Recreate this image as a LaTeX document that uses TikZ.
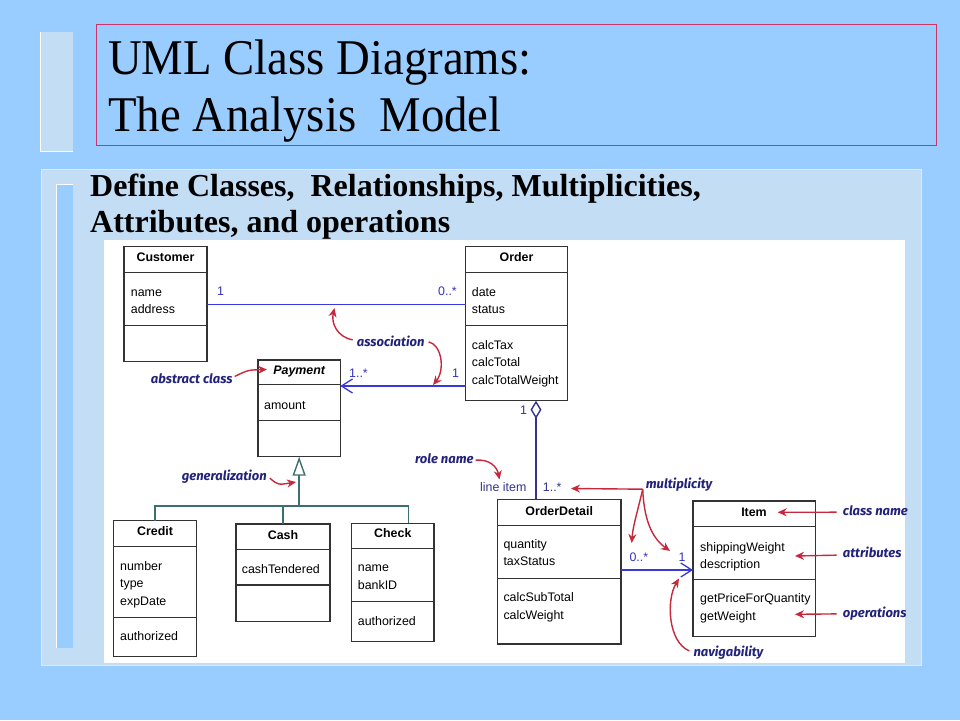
\documentclass[tikz,border=0pt]{standalone}
\usepackage{fontspec}
\setmainfont{Liberation Serif}
\newfontfamily\umlfont{Liberation Sans}
\newfontfamily\annofont{Fira Sans}
\usetikzlibrary{arrows.meta,fit}
\definecolor{bgblue}{HTML}{99CCFF}
\definecolor{panelblue}{HTML}{C3DDF5}
\definecolor{paneledge}{HTML}{DCEBF8}
\definecolor{titlered}{HTML}{CC3366}
\definecolor{annored}{HTML}{C8283C}
\definecolor{annonavy}{HTML}{22227A}
\definecolor{assocblue}{HTML}{3838E0}
\definecolor{multblue}{HTML}{3434C0}
\definecolor{aggnavy}{HTML}{34348C}
\definecolor{genteal}{HTML}{3C7070}
\definecolor{boxgray}{HTML}{333333}
\newcommand\umlclass[7]{%
  \node[classbox, fit={(#2,#3) (#4,#5)}] (#1) {};
  \draw[divider] (#1.west |- #2,#6) -- (#1.east |- #4,#6);
  \draw[divider] (#1.west |- #2,#7) -- (#1.east |- #4,#7);}
\newcommand\umllines[4]{%
  \foreach \t [count=\i] in {#4} {\node[cattr] (#1\i) at (#2,{#3+(\i-1)*17.5}) {\t};}}
\begin{document}
\begin{tikzpicture}[x=1pt,y=-1pt,
  classbox/.style={draw=boxgray, line width=1.5pt, fill=white, inner sep=0pt, outer sep=0pt},
  divider/.style={draw=boxgray, line width=1.4pt},
  ctitle/.style={font=\umlfont\bfseries\fontsize{12.4}{14}\selectfont, anchor=base, inner sep=0pt},
  ctitleit/.style={font=\umlfont\bfseries\itshape\fontsize{12.4}{14}\selectfont, anchor=base, inner sep=0pt},
  cattr/.style={font=\umlfont\fontsize{12.4}{14}\selectfont, anchor=base west, inner sep=0pt},
  mult/.style={font=\umlfont\fontsize{12.4}{14}\selectfont, anchor=base west, inner sep=0pt, text=multblue},
  multnavy/.style={mult, text=aggnavy},
  anno/.style={font=\annofont\bfseries\itshape\fontsize{13}{15}\selectfont, text=annonavy, anchor=base west, inner sep=0pt},
  redarrow/.style={draw=annored, line width=1.4pt, -{Stealth[length=9pt,width=8pt]}},
  assoc/.style={draw=assocblue, line width=1.4pt},
  navarrow/.style={assoc, -{Straight Barb[length=11pt,width=14pt,line width=1.3pt]}},
  genline/.style={draw=genteal, line width=1.4pt},
  genarrow/.style={genline, -{Triangle[open,length=19pt,width=13pt,fill=white]}},
  aggline/.style={draw=aggnavy, line width=1.4pt, -{Diamond[open,length=18pt,width=11pt,fill=white]}},
]
\useasboundingbox (0,0) rectangle (960,720);
\fill[bgblue] (0,0) rectangle (960,720);
% title area
\fill[panelblue] (40,32) rectangle (73,152);
\draw[white, line width=1pt] (40.5,32) -- (40.5,151.5) -- (73,151.5);
\draw[titlered, line width=1pt] (96,24) rectangle (936,145);
\node[anchor=base west, inner sep=0pt, font=\fontsize{50}{56}\selectfont] (title1) at (108,74.5) {\scalebox{0.935}[1]{UML Class Diagrams:}};
\node[anchor=base west, inner sep=0pt, font=\fontsize{50}{56}\selectfont] (title2) at (108,131) {\scalebox{0.935}[1]{The Analysis\ \ Model}};
% panel
\filldraw[fill=panelblue, draw=paneledge, line width=1pt] (41,169) rectangle (921,665);
\fill[bgblue] (56,184) rectangle (73,648);
\draw[white, line width=1pt] (56.5,648) -- (56.5,184.5) -- (73,184.5);
\node[anchor=base west, inner sep=0pt, font=\bfseries\fontsize{32}{36}\selectfont] (sub1) at (90,196) {Define Classes,\ \ Relationships, Multiplicities,};
\node[anchor=base west, inner sep=0pt, font=\bfseries\fontsize{32}{36}\selectfont] (sub2) at (90,232.5) {Attributes, and operations};
\fill[white] (104,240) rectangle (905,663);
% classes
\umlclass{customer}{124}{246.7}{207}{361.7}{272.7}{325.7}
\node[ctitle] (customerT) at (165.5,261.7) {Customer};
\umllines{customerA}{130.7}{296}{name,address}
\umlclass{order}{465.7}{246.7}{567.3}{400.7}{272.7}{325.7}
\node[ctitle] (orderT) at (516.5,261.7) {Order};
\umllines{orderA}{471.7}{296}{date,status}
\umllines{orderO}{471.7}{349}{calcTax,calcTotal,calcTotalWeight}
\umlclass{payment}{258}{360}{340.3}{456.7}{384.7}{420.7}
\node[ctitleit] (paymentT) at (299.2,374.5) {Payment};
\umllines{paymentA}{264}{409}{amount}
\umlclass{credit}{113.3}{520.7}{196.7}{656.7}{546.7}{617.3}
\node[ctitle] (creditT) at (155,535) {Credit};
\umllines{creditA}{120}{570}{number,type,expDate}
\umllines{creditO}{120}{640}{authorized}
\umlclass{cash}{236}{524}{330}{621.7}{549.3}{585}
\node[ctitle] (cashT) at (283,539) {Cash};
\umllines{cashA}{241.7}{573}{cashTendered}
\umlclass{check}{351.7}{523.3}{434}{641.7}{548.3}{601.7}
\node[ctitle] (checkT) at (392.8,537.7) {Check};
\umllines{checkA}{357.7}{571.7}{name,bankID}
\umllines{checkO}{357.7}{625}{authorized}
\umlclass{od}{497.5}{499.3}{621}{644}{525.5}{578.3}
\node[ctitle] (odT) at (559.2,515) {OrderDetail};
\umllines{odA}{503.3}{548.3}{quantity,taxStatus}
\umllines{odO}{503.3}{601.7}{calcSubTotal,calcWeight}
\umlclass{item}{693}{501}{815.3}{636.7}{526.3}{579.3}
\node[ctitle] (itemT) at (754,516) {Item};
\umllines{itemA}{700}{551}{shippingWeight,description}
\umllines{itemO}{700}{602.7}{getPriceForQuantity,getWeight}
% associations
\draw[assoc] (customer.east) -- (customer.east -| order.west);
\node[mult] (m1) at (217,295.7) {1};
\node[mult] (m2) at (438,295) {0..*};
\coordinate (opS) at (465.7,386);
\draw[navarrow] (opS) -- (opS -| payment.east);
\node[mult] (m3) at (349,377) {1..*};
\node[mult] (m4) at (452,377) {1};
\coordinate (aggtop) at (536,400.7);
\draw[aggline] (aggtop |- od.north) -- (aggtop);
\node[multnavy] (m5) at (520,414.3) {1};
\node[multnavy] (roleT) at (480,491.7) {line item};
\node[multnavy] (m6) at (542.7,491.7) {1..*};
\coordinate (odI) at (621,570);
\draw[navarrow] (odI) -- (odI -| item.west);
\node[mult] (m7) at (629.3,561.7) {0..*};
\node[mult] (m8) at (678.3,561.7) {1};
% generalization
\coordinate (chkj) at (408.7,506);
\draw[genline] (credit.north) |- (chkj) -- (chkj |- check.north);
\draw[genline] (cash.north) -- (cash.north |- chkj);
\draw[genarrow] (payment.south |- chkj) -- (payment.south);
% annotations
\node[anno] (aAbs) at (150.7,383.3) {abstract class};
\coordinate (tAbs) at (267,369.5);
\draw[redarrow] ([shift={(2,-2)}]aAbs.east) .. controls (248,370) .. (tAbs);
\node[anno] (aAssoc) at (356.7,346) {association};
\coordinate (tAs1) at (334.5,308);
\coordinate (tAs2) at (433,385);
\draw[redarrow] ([shift={(-4,-1)}]aAssoc.west) .. controls (337,337) and (331,323) .. (tAs1);
\draw[redarrow] ([shift={(4,1)}]aAssoc.east) .. controls (442,345) and (445,370) .. (tAs2);
\node[anno] (aGen) at (181.7,480) {generalization};
\coordinate (tGen) at (296,482);
\draw[redarrow] ([shift={(3,2)}]aGen.east) .. controls (278,485) .. (tGen);
\node[anno] (aRole) at (415,463) {role name};
\coordinate (tRole) at (499.5,479.5);
\draw[redarrow] ([shift={(2,2)}]aRole.east) .. controls (490,459) and (497,467) .. (tRole);
\node[anno] (aMult) at (645.7,488) {multiplicity};
\coordinate (mO) at ([shift={(-3,5)}]aMult.west);
\coordinate (tM1) at (571,488.5);
\coordinate (tM2) at (631.7,543);
\coordinate (tM3) at (670,551);
\draw[redarrow] (mO) -- (tM1);
\draw[redarrow] (mO) .. controls (638,510) and (633,525) .. (tM2);
\draw[redarrow] (mO) .. controls (644,520) and (652,538) .. (tM3);
\node[anno] (aCls) at (842.7,515) {class name};
\coordinate (tCls) at (777.7,512.3);
\draw[redarrow] ([shift={(-6,2)}]aCls.west) -- (tCls);
\node[anno] (aAttr) at (842.7,557.3) {attributes};
\coordinate (tAttr) at (795,556);
\draw[redarrow] ([shift={(-6,3)}]aAttr.west) -- (tAttr);
\node[anno] (aOps) at (842.7,617.7) {operations};
\coordinate (tOps) at (795,614.3);
\draw[redarrow] ([shift={(-6,0)}]aOps.west) -- (tOps);
\node[anno] (aNav) at (693.3,656.7) {navigability};
\coordinate (tNav) at (679,578.5);
\draw[redarrow] ([shift={(-4,-2)}]aNav.west) .. controls (668,642) and (666,600) .. (tNav);
\end{tikzpicture}
\end{document}
